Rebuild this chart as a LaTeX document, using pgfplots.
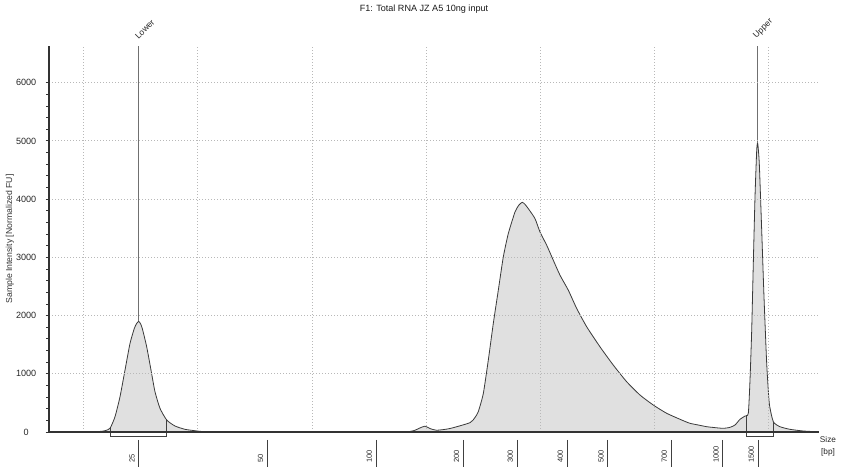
\documentclass[border=0pt]{standalone}
\usepackage{fontspec}
\setmainfont{Liberation Sans}
\usepackage{pgfplots}
\pgfplotsset{compat=1.18}
\usepackage{pgfplotstable}
\definecolor{fillgray}{HTML}{E0E0E0}
\definecolor{curvegray}{HTML}{3A3A3A}
\definecolor{gridgray}{HTML}{B8B8B8}
\definecolor{markgray}{HTML}{707070}

% x = position along the (non-linear) size axis, y = normalized FU
\pgfplotstableread{
x y
49 0
60 5
70 8
80 5
90 6
100 10
105 22
110 63
115 262
120 605
125 1063
130 1521
134.3 1778
136.5 1860
138.7 1900
140.5 1860
142.3 1778
146.7 1463
151 1063
155 691
160 406
166.7 206
175 103
185 46
195 22
202 8
210 5
230 3
260 3
280 8
290 5
300 10
310 5
320 3
350 5
360 10
370 5
380 10
390 8
400 5
410 10
415 30
420 70
425 100
430 60
436.7 30
450 60
470 160
475 250
478.3 350
483.3 660
488.3 1235
493.3 1865
498.3 2435
503.3 3007
508.3 3408
515 3779
519 3900
522.3 3945
525 3910
528.3 3837
535 3665
540 3436
546.7 3208
553.3 2950
560 2693
568.3 2436
576.7 2122
586.7 1807
600 1463
613.3 1149
626.7 863
640 635
653.3 463
666.7 321
683.3 194
690 149
698.3 120
706.7 91
715 75
723.3 63
730 80
735 120
740 218
745 274
748.3 321
750 892
751.7 1750
753.3 2893
755 4036
756.7 4837
757.7 4960
759.3 4609
761.7 3465
764 2321
766.7 1178
769.3 492
773.3 177
780 91
790 46
803.3 17
816.7 5
}\trace

\begin{document}
\begin{tikzpicture}[x=1pt,y=1pt]
\useasboundingbox (0,0) rectangle (635.25,350.25);
\begin{axis}[
  at={(36.75pt,26.25pt)}, anchor=south west,
  scale only axis, width=577.5pt, height=289.5pt,
  xmin=49, xmax=819, ymin=0, ymax=6630,
  axis lines=left, axis line style={-},
  x axis line style={line width=1.2pt, color=black!80},
  y axis line style={line width=0.8pt, color=black!80},
  xtick={83,197.5,312,426,540,654,768}, xticklabels={},
  xtick style={draw=none},
  xmajorgrids, ymajorgrids,
  ytick={0,1000,...,6000}, minor y tick num=4,
  grid style={gridgray, line width=0.6pt, dash pattern=on 0.75pt off 1.5pt},
  tick align=outside, major tick length=2.6pt, minor tick length=2.2pt,
  ytick style={black!80, line width=0.6pt},
  /pgf/number format/assume math mode=true,
  /pgf/number format/1000 sep={},
  yticklabel style={anchor=center, inner sep=0pt, xshift=-14.5pt, font=\fontsize{6.8}{8}\selectfont, text=black!85},
  axis on top=true,
  clip=false,
]
\addplot[fill=fillgray, draw=none, smooth, tension=0.35] table[x=x,y=y]{\trace} \closedcycle;
\addplot[curvegray, line width=0.6pt, smooth, tension=0.35] table[x=x,y=y]{\trace};

% marker lines
\draw[markgray, line width=0.8pt] (axis cs:138.7,1900) -- (axis cs:138.7,6630);
\draw[markgray, line width=0.8pt] (axis cs:757.7,4960) -- (axis cs:757.7,6630);
\node[rotate=45, anchor=south west, inner sep=0pt, font=\fontsize{6.4}{8}\selectfont, text=black!85] at ([yshift=4.5pt]axis cs:138.7,6630) {Lower};
\node[rotate=45, anchor=south west, inner sep=0pt, font=\fontsize{6.4}{8}\selectfont, text=black!85] at ([yshift=4.5pt]axis cs:757.7,6630) {Upper};

% peak brackets
\draw[black!75, line width=0.6pt] (axis cs:110,63) -- ([yshift=-3pt]axis cs:110,0) -- ([yshift=-3pt]axis cs:166,0) -- (axis cs:166,215);
\draw[black!75, line width=0.6pt] (axis cs:746.7,290) -- ([yshift=-3pt]axis cs:746.7,0) -- ([yshift=-3pt]axis cs:773.7,0) -- (axis cs:773.7,170);

% size ticks (bp)
\draw[black!75, line width=0.7pt] ([yshift=-6pt]axis cs:138.7,0) -- ([yshift=-26.25pt]axis cs:138.7,0);
\draw[black!75, line width=0.7pt] ([yshift=-6pt]axis cs:267.3,0) -- ([yshift=-26.25pt]axis cs:267.3,0);
\draw[black!75, line width=0.7pt] ([yshift=-6pt]axis cs:376,0) -- ([yshift=-26.25pt]axis cs:376,0);
\draw[black!75, line width=0.7pt] ([yshift=-6pt]axis cs:463.3,0) -- ([yshift=-26.25pt]axis cs:463.3,0);
\draw[black!75, line width=0.7pt] ([yshift=-6pt]axis cs:517,0) -- ([yshift=-26.25pt]axis cs:517,0);
\draw[black!75, line width=0.7pt] ([yshift=-6pt]axis cs:567,0) -- ([yshift=-26.25pt]axis cs:567,0);
\draw[black!75, line width=0.7pt] ([yshift=-6pt]axis cs:607.7,0) -- ([yshift=-26.25pt]axis cs:607.7,0);
\draw[black!75, line width=0.7pt] ([yshift=-6pt]axis cs:671,0) -- ([yshift=-26.25pt]axis cs:671,0);
\draw[black!75, line width=0.7pt] ([yshift=-6pt]axis cs:722.7,0) -- ([yshift=-26.25pt]axis cs:722.7,0);
\draw[black!75, line width=0.7pt] ([yshift=-6pt]axis cs:758,0) -- ([yshift=-26.25pt]axis cs:758,0);
\begin{scope}[every node/.style={rotate=90, anchor=south west, inner sep=0pt, font=\fontsize{5.6}{7}\selectfont, text=black!85}]
\node at ([xshift=-2.8pt, yshift=-23.25pt]axis cs:138.7,0) {25};
\node at ([xshift=-2.8pt, yshift=-23.25pt]axis cs:267.3,0) {50};
\node at ([xshift=-2.8pt, yshift=-23.25pt]axis cs:376,0) {100};
\node at ([xshift=-2.8pt, yshift=-23.25pt]axis cs:463.3,0) {200};
\node at ([xshift=-2.8pt, yshift=-23.25pt]axis cs:517,0) {300};
\node at ([xshift=-2.8pt, yshift=-23.25pt]axis cs:567,0) {400};
\node at ([xshift=-2.8pt, yshift=-23.25pt]axis cs:607.7,0) {500};
\node at ([xshift=-2.8pt, yshift=-23.25pt]axis cs:671,0) {700};
\node at ([xshift=-2.8pt, yshift=-23.25pt]axis cs:722.7,0) {1000};
\node at ([xshift=-2.8pt, yshift=-23.25pt]axis cs:758,0) {1500};
\end{scope}
\end{axis}

% title and axis labels
\node[font=\fontsize{6.8}{8}\selectfont, text=black!90] at (318,343.5) {F1: Total RNA JZ A5 10ng input};
\node[rotate=90, font=\fontsize{6.5}{8}\selectfont, text=black!80] at (7.5,171) {Sample Intensity [Normalized FU]};
\node[font=\fontsize{6.2}{7}\selectfont, text=black!85] at (621,20.25) {Size};
\node[font=\fontsize{6.2}{7}\selectfont, text=black!85] at (621,11.25) {[bp]};
\end{tikzpicture}
\end{document}
